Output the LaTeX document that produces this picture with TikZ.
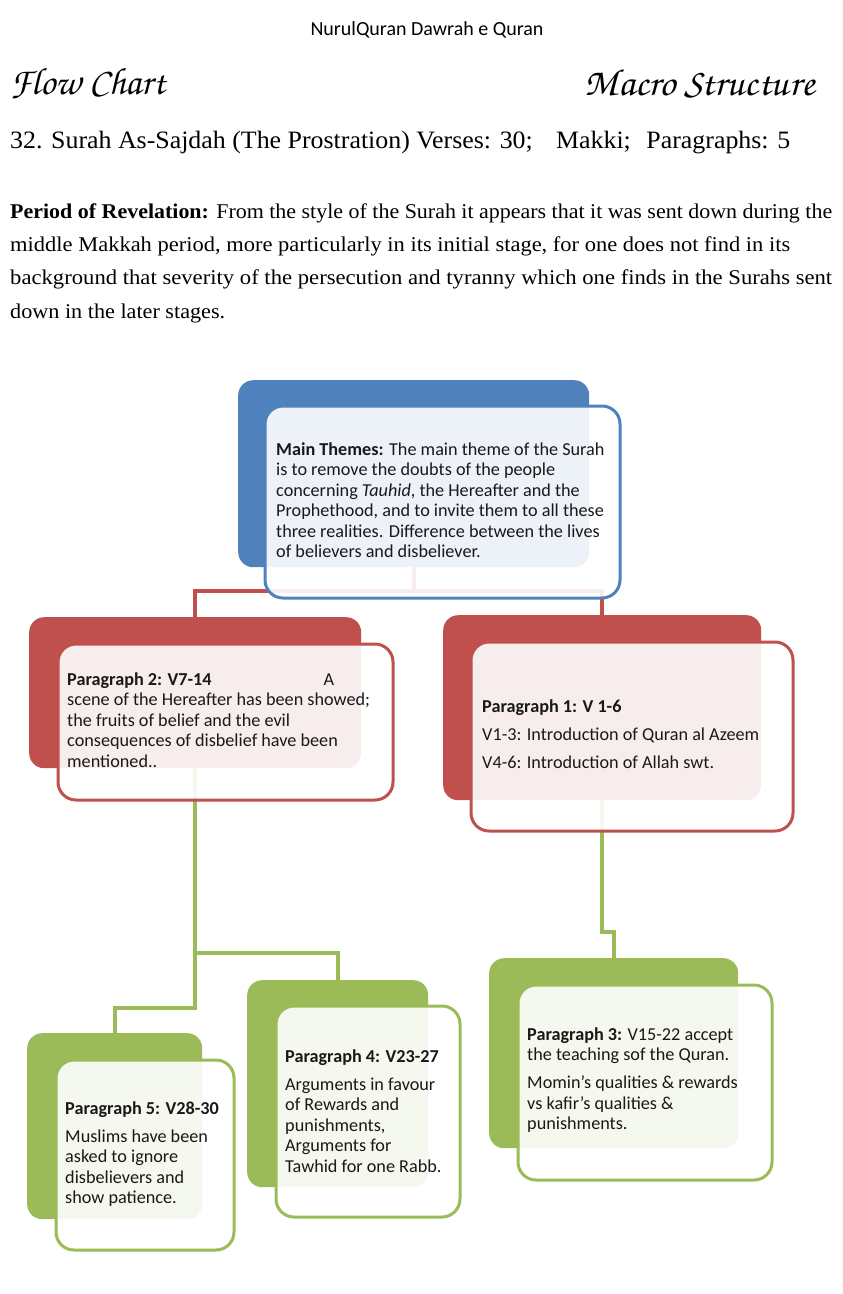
\documentclass[tikz,border=0pt]{standalone}
\usepackage{fontspec}
\usepackage{graphicx}
\setmainfont{Carlito}
\newfontfamily\serifA{Liberation Serif}
\newfontfamily\scriptf{TeX Gyre Chorus}
\usetikzlibrary{backgrounds}
\definecolor{cblue}{HTML}{4F81BD}
\definecolor{cred}{HTML}{C0504D}
\definecolor{cgreen}{HTML}{9BBB59}
\begin{document}
\begin{tikzpicture}[x=1pt,y=-1pt,
  backbox/.style={draw=none, fill=#1, rounded corners=15pt, anchor=north west, inner sep=0pt},
  frontbox/.style={draw=#1, line width=3pt, fill=white, fill opacity=0.9, rounded corners=18pt, anchor=north west, inner sep=0pt},
  conn/.style={draw=#1, line width=4pt},
  txt/.style={anchor=west, align=left, font=\fontsize{18.2}{20.5}\selectfont, inner sep=0pt, text=black!90},
  prline/.style={anchor=west, inner sep=0pt, font=\serifA\fontsize{21}{24}\selectfont}
]
\useasboundingbox (0,0) rectangle (843,1294);

% header
\node[font=\fontsize{20}{22}\selectfont, inner sep=0pt] (hdr) at (427,30) {NurulQuran Dawrah e Quran};
\node[anchor=west, inner sep=0pt, font=\scriptf\fontsize{38}{40}\selectfont] (fc) at (10,84) {\resizebox{155pt}{\height}{Flow Chart}};
\node[anchor=east, inner sep=0pt, font=\scriptf\fontsize{38}{40}\selectfont] (ms) at (815,84) {\resizebox{230pt}{\height}{Macro Structure}};
\node[anchor=west, inner sep=0pt, font=\serifA\fontsize{25}{28}\selectfont] (title) at (10,143)
  {\resizebox{780pt}{\height}{32. Surah As-Sajdah (The Prostration) Verses: 30;\hspace{0.9em}Makki;\hspace{0.6em}Paragraphs: 5}};
\node[prline] (pr1) at (10,213) {\resizebox{822pt}{\height}{\textbf{Period of Revelation:} From the style of the Surah it appears that it was sent down during the}};
\node[prline] (pr2) at (10,246) {\resizebox{780pt}{\height}{middle Makkah period, more particularly in its initial stage, for one does not find in its}};
\node[prline] (pr3) at (10,279) {\resizebox{822pt}{\height}{background that severity of the persecution and tyranny which one finds in the Surahs sent}};
\node[prline] (pr4) at (10,313) {\resizebox{215pt}{\height}{down in the later stages.}};

% boxes: main
\node[backbox=cblue, minimum width=351, minimum height=187] (mainB) at (238,380) {};
\node[frontbox=cblue, minimum width=355, minimum height=192] (mainF) at (263.5,404.5) {};
\node[txt] (mainT) at (276,500) {\textbf{Main Themes:} The main theme of the Surah\\is to remove the doubts of the people\\concerning \textit{Tauhid}, the Hereafter and the\\Prophethood, and to invite them to all these\\three realities. Difference between the lives\\of believers and disbeliever.};

% paragraph 2
\node[backbox=cred, minimum width=332, minimum height=151] (p2B) at (29,617) {};
\node[frontbox=cred, minimum width=335, minimum height=156] (p2F) at (56.5,642.5) {};
\node[txt] (p2T) at (67,720) {\makebox[267pt][l]{\textbf{Paragraph 2: V7-14}\hfill A}\\scene of the Hereafter has been showed;\\the fruits of belief and the evil\\consequences of disbelief have been\\mentioned..};

% paragraph 1
\node[backbox=cred, minimum width=318, minimum height=185] (p1B) at (443,615) {};
\node[frontbox=cred, minimum width=322, minimum height=189] (p1F) at (469.5,640.5) {};
\node[txt] (p1T) at (482,734) {\textbf{Paragraph 1: V 1-6}\\[7.5pt]V1-3: Introduction of Quran al Azeem\\[7.5pt]V4-6: Introduction of Allah swt.};

% paragraph 3
\node[backbox=cgreen, minimum width=249, minimum height=190] (p3B) at (489,958) {};
\node[frontbox=cgreen, minimum width=254, minimum height=195] (p3F) at (516.5,983.5) {};
\node[txt] (p3T) at (527,1080) {\textbf{Paragraph 3:} V15-22 accept\\the teaching sof the Quran.\\[7.5pt]Momin’s qualities \& rewards\\vs kafir’s qualities \&\\punishments.};

% paragraph 4
\node[backbox=cgreen, minimum width=181, minimum height=207] (p4B) at (247,980) {};
\node[frontbox=cgreen, minimum width=184, minimum height=211] (p4F) at (274.5,1004.5) {};
\node[txt] (p4T) at (285,1111) {\textbf{Paragraph 4: V23-27}\\[7.5pt]Arguments in favour\\of Rewards and\\punishments,\\Arguments for\\Tawhid for one Rabb.};

% paragraph 5
\node[backbox=cgreen, minimum width=175, minimum height=186] (p5B) at (27,1033) {};
\node[frontbox=cgreen, minimum width=178, minimum height=190] (p5F) at (54.5,1058.5) {};
\node[txt] (p5T) at (65,1154) {\textbf{Paragraph 5: V28-30}\\[7.5pt]Muslims have been\\asked to ignore\\disbelievers and\\show patience.};

% connectors behind boxes
\begin{pgfonlayer}{background}
  \fill[white] (0,0) rectangle (843,1294);
  \draw[conn=cred] (mainB.south) -- ++(0,24) -| (p1B.north);
  \draw[conn=cred] (mainB.south) -- ++(0,24) -| (p2B.north);
  \draw[conn=cgreen] (p2B.south) -- ++(0,240) -| (p5B.north);
  \draw[conn=cgreen] (p2B.south) ++(0,185) -| (p4B.north);
  \draw[conn=cgreen] (p1B.south) -- ++(0,132) -| (p3B.north);
\end{pgfonlayer}
\end{tikzpicture}
\end{document}
